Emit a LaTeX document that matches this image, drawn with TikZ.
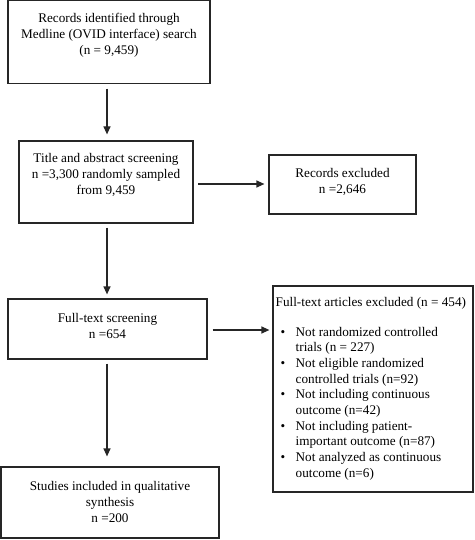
\documentclass[tikz,border=0pt]{standalone}
\usepackage{fontspec}
\setmainfont{Liberation Serif}
\usetikzlibrary{arrows.meta}
\newcommand{\bul}{\makebox[20pt][l]{\hspace{5pt}\textbullet}}
\begin{document}
\begin{tikzpicture}[x=1pt,y=-1pt,
  box/.style={draw=black!85, line width=1.2pt, rectangle, inner sep=0pt},
  txt/.style={align=center, inner sep=0pt, font=\fontsize{13.2}{16}\selectfont},
  arr/.style={draw=black!85, line width=1.2pt, -{Triangle[length=8pt,width=7pt]}, shorten <=4.5pt, shorten >=4pt}]
\useasboundingbox (0,0) rectangle (474,540);
\coordinate (ax) at (107,0);
\node[box, minimum width=202pt, minimum height=83pt] (b1) at (109,42) {};
\node[txt] (t1) at (109,35) {Records identified through\\Medline (OVID interface) search\\(n = 9,459)};
\node[box, minimum width=174pt, minimum height=82pt] (b2) at (106,182) {};
\node[txt] (t2) at (106,175) {Title and abstract screening\\n =3,300 randomly sampled\\from 9,459};
\node[box, minimum width=147pt, minimum height=59pt] (b3) at (342.5,184.5) {};
\node[txt] (t3) at (342.5,181.5) {Records excluded\\n =2,646};
\node[box, minimum width=199pt, minimum height=60pt] (b4) at (107.5,329) {};
\node[txt] (t4) at (107.5,325.5) {Full-text screening\\n =654};
\node[box, minimum width=200pt, minimum height=206pt] (b5) at (373,389) {};
\node[inner sep=0pt, anchor=north west, align=left, font=\fontsize{13.2}{15.67}\selectfont] (t5) at (275.5,297) {Full-text articles excluded (n = 454)\\[14pt]
\bul Not randomized controlled\\
\hspace*{20pt}trials (n = 227)\\
\bul Not eligible randomized\\
\hspace*{20pt}controlled trials (n=92)\\
\bul Not including continuous\\
\hspace*{20pt}outcome (n=42)\\
\bul Not including patient-\\
\hspace*{20pt}important outcome (n=87)\\
\bul Not analyzed as continuous\\
\hspace*{20pt}outcome (n=6)};
\node[box, minimum width=218pt, minimum height=71pt] (b6) at (110,502.5) {};
\node[txt] (t6) at (110,501.5) {Studies included in qualitative\\synthesis\\n =200};
\draw[arr, shorten >=6pt] (b1.south -| ax) -- (b2.north -| ax);
\draw[arr] (b2.east) ++(0,2) coordinate (h1) (h1) -- (h1 -| b3.west);
\draw[arr, shorten <=4pt] (b2.south -| ax) -- (b4.north -| ax);
\draw[arr, shorten <=5pt, shorten >=3pt] (b4.east) ++(0,1) coordinate (h2) (h2) -- (h2 -| b5.west);
\draw[arr, shorten <=4pt, shorten >=10pt] (b4.south -| ax) -- (b6.north -| ax);
\end{tikzpicture}
\end{document}
